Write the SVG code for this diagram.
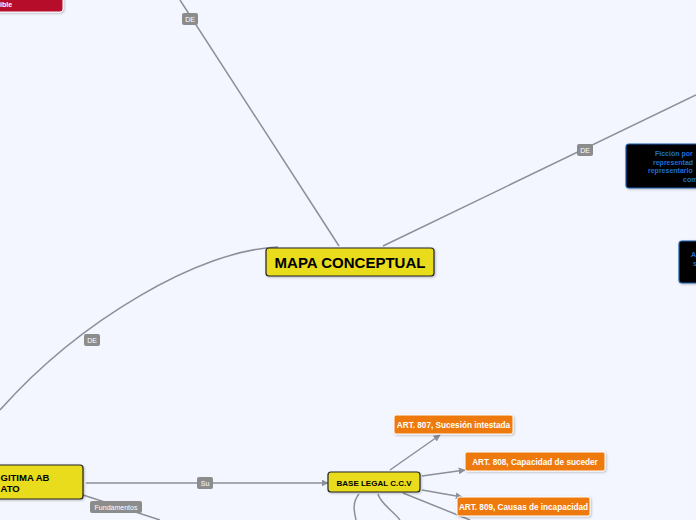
<svg xmlns="http://www.w3.org/2000/svg" width="696" height="520" viewBox="0 0 696 520">
<defs>
<marker id="arr" viewBox="0 0 10 10" refX="9" refY="5" markerWidth="7" markerHeight="7" markerUnits="userSpaceOnUse" orient="auto">
<path d="M0,0 L10,5 L0,10 Z" fill="#8a8f99"/>
</marker>
<filter id="sh" x="-20%" y="-20%" width="140%" height="140%">
<feDropShadow dx="1" dy="1" stdDeviation="1" flood-color="#000" flood-opacity="0.25"/>
</filter>
</defs>
<style>
.c{fill:none;stroke:#8a8f99;stroke-width:1.5}
.lb{fill:#8c8c8c;rx:2}
.lt{font-family:"Liberation Sans",Arial,sans-serif;font-size:7px;fill:#ffffff;text-anchor:middle}
.yel{fill:#e8dc1e;stroke:#222;stroke-width:1.2}
.blk{fill:#000;stroke:#1d5fb0;stroke-width:1.2}
.org{fill:#ee7a10;stroke:#ffffff;stroke-width:1}
.bt{font-family:"Liberation Sans",Arial,sans-serif;font-weight:bold;fill:#000}
.wt{font-family:"Liberation Sans",Arial,sans-serif;font-weight:bold;fill:#fff;font-size:8.2px;text-anchor:middle}
.bl{font-family:"Liberation Sans",Arial,sans-serif;font-weight:bold;fill:#1e6fd0;font-size:7px}
</style>
<rect width="696" height="520" fill="#f3f6fe"/>
<g id="connectors">
<path class="c" d="M180,0 L339,246"/>
<path class="c" d="M383,246 L696,95"/>
<path class="c" d="M278,247 C200,250 80,320 0,410"/>
<path class="c" d="M86,483 L328,483" marker-end="url(#arr)"/>
<path class="c" d="M83,495 L160,520"/>
<path class="c" d="M390,470 L440,435" marker-end="url(#arr)"/>
<path class="c" d="M422,476 L465,470" marker-end="url(#arr)"/>
<path class="c" d="M422,490 L462,497" marker-end="url(#arr)"/>
<path class="c" d="M403,493 L470,520"/>
<path class="c" d="M359,494 C352,502 354,512 356,520"/>
<path class="c" d="M378,494 C380,503 392,510 400,520"/>
<rect class="lb" x="182" y="13" width="16" height="12"/>
<text class="lt" x="190" y="22">DE</text>
<rect class="lb" x="577" y="144" width="16" height="12"/>
<text class="lt" x="585" y="153">DE</text>
<rect class="lb" x="84" y="334" width="16" height="12"/>
<text class="lt" x="92" y="343">DE</text>
<rect class="lb" x="197" y="477" width="16" height="12"/>
<text class="lt" x="205" y="486">Su</text>
<rect class="lb" x="90" y="501" width="52" height="12"/>
<text class="lt" x="116" y="510">Fundamentos</text>
</g>
<g id="node-red">
<rect x="-10" y="-20" width="73" height="32" rx="3" fill="#b5082b" stroke="#fff" stroke-width="1" filter="url(#sh)"/>
<text x="0" y="7" font-family="Liberation Sans,Arial,sans-serif" font-weight="bold" font-size="7" fill="#fff">ible</text>
</g>
<g id="node-main">
<rect class="yel" x="266" y="248" width="168" height="28" rx="3" filter="url(#sh)"/>
<text class="bt" x="350" y="267.5" font-size="15" text-anchor="middle">MAPA CONCEPTUAL</text>
</g>
<g id="node-ficcion">
<rect class="blk" x="626" y="144" width="80" height="44" rx="3" filter="url(#sh)"/>
<text class="bl" x="655" y="156">Ficción por</text>
<text class="bl" x="653" y="165">representad</text>
<text class="bl" x="648" y="173">representarlo</text>
<text class="bl" x="683" y="182">com</text>
</g>
<g id="node-black2">
<rect class="blk" x="679" y="241" width="30" height="42" rx="3" filter="url(#sh)"/>
<text class="bl" x="691" y="257">A</text>
<text class="bl" x="693" y="266">s</text>
</g>
<g id="node-legitima">
<rect class="yel" x="-10" y="465" width="93" height="34" rx="3" filter="url(#sh)"/>
<text class="bt" x="0.5" y="480.5" font-size="9.5">GITIMA AB</text>
<text class="bt" x="0.5" y="492" font-size="9.5">ATO</text>
</g>
<g id="node-base">
<rect class="yel" x="328" y="472" width="92" height="20" rx="3" filter="url(#sh)"/>
<text class="bt" x="374" y="485.5" font-size="8" text-anchor="middle">BASE LEGAL C.C.V</text>
</g>
<g id="node-807">
<rect class="org" x="394" y="415" width="119" height="19" rx="2" filter="url(#sh)"/>
<text class="wt" x="453.5" y="427.5">ART. 807, Sucesión intestada</text>
</g>
<g id="node-808">
<rect class="org" x="465" y="452" width="140" height="19" rx="2" filter="url(#sh)"/>
<text class="wt" x="535" y="464.5">ART. 808, Capacidad de suceder</text>
</g>
<g id="node-809">
<rect class="org" x="457" y="497" width="133" height="19" rx="2" filter="url(#sh)"/>
<text class="wt" x="523.5" y="509.5">ART. 809, Causas de incapacidad</text>
</g>
</svg>
